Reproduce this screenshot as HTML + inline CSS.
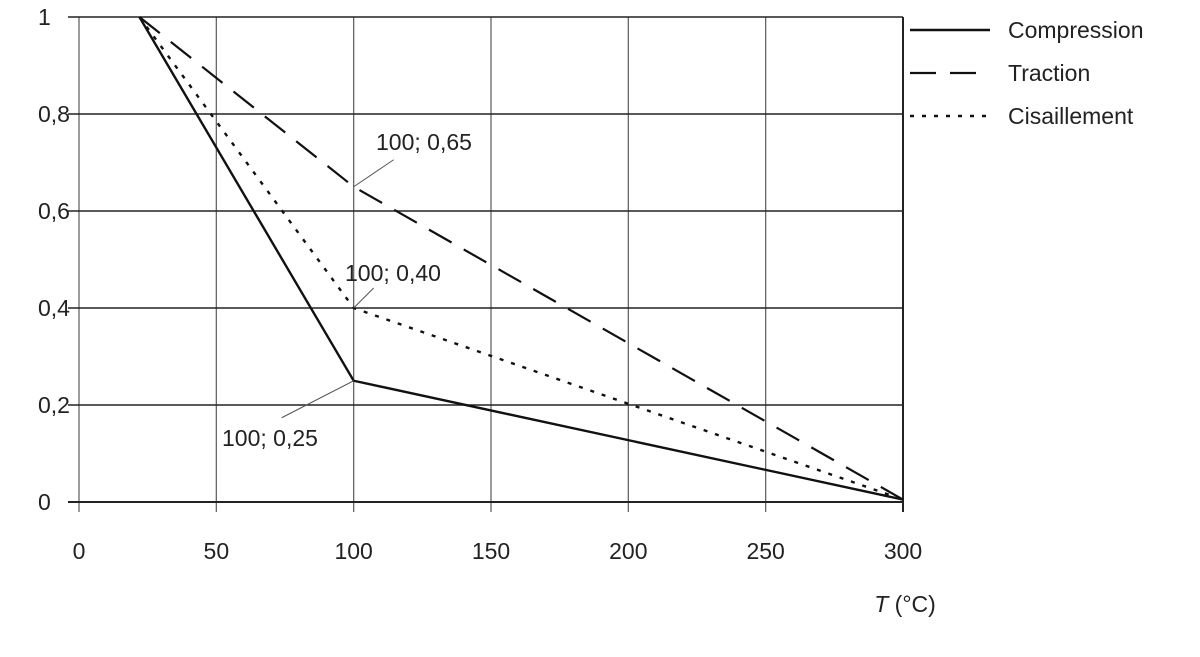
<!DOCTYPE html>
<html><head><meta charset="utf-8"><style>
body{margin:0;background:#fff;}
svg text{font-family:"Liberation Sans",Arial,sans-serif;fill:#222;}
</style></head><body>
<svg width="1200" height="652" viewBox="0 0 1200 652">
<g id="grid"></g>
<g id="axes"></g>
<g id="series"></g>
<g id="annot"></g>
<g id="legend"></g>
<text x="905" y="612" font-size="23" text-anchor="middle"><tspan font-style="italic">T</tspan> (°C)</text>
</svg>
<script>
const xTicks=[0,50,100,150,200,250,300];
const yTicks=[0,0.2,0.4,0.6,0.8,1];
const yTickLabels=["0","0,2","0,4","0,6","0,8","1"];
const seriesNames=["Compression","Traction","Cisaillement"];
const temps=[22,100,300];
const compression=[1,0.25,0.005];
const traction=[1,0.65,0.005];
const cisaillement=[1,0.40,0.005];
const annotations=[{x:100,y:0.65,t:"100; 0,65",dx:40,dy:-27,tx:376,ty:150},{x:100,y:0.40,t:"100; 0,40",dx:20,dy:-20,tx:345,ty:281},{x:100,y:0.25,t:"100; 0,25",dx:-72,dy:37,tx:222,ty:446}];
const NS="http://www.w3.org/2000/svg";
const X=v=>79+v*(903-79)/300, Y=v=>502-v*485;
function mk(tag,attrs,parent){const e=document.createElementNS(NS,tag);for(const k in attrs)e.setAttribute(k,attrs[k]);parent.appendChild(e);return e;}
const grid=document.getElementById('grid'),axes=document.getElementById('axes'),ser=document.getElementById('series'),ann=document.getElementById('annot'),leg=document.getElementById('legend');
xTicks.forEach(v=>{const l=mk('line',{x1:X(v),x2:X(v),y1:Y(1),y2:512,stroke:'#666','stroke-width':1.3},grid);

const t=mk('text',{x:X(v),y:559,'font-size':23,'text-anchor':'middle'},axes);t.textContent=v;
});
yTicks.forEach((v,i)=>{const l=mk('line',{x1:68,x2:903,y1:Y(v),y2:Y(v),stroke:'#222','stroke-width':v===0?2:1.4},grid);

const t=mk('text',{x:38,y:Y(v)+8,'font-size':23},axes);t.textContent=yTickLabels[i];
});
const b=mk('line',{x1:903,x2:903,y1:Y(1),y2:512,stroke:'#222','stroke-width':2},axes);

const styles=[{d:'none',w:2.4},{d:'26 14',w:2.2},{d:'4 8',w:2.4}];
[compression,traction,cisaillement].forEach((s,i)=>{
const p=mk('polyline',{points:temps.map((t,j)=>X(t)+','+Y(s[j])).join(' '),fill:'none',stroke:'#111','stroke-width':styles[i].w,'stroke-dasharray':styles[i].d},ser);

const ly=30+i*43;
const l=mk('line',{x1:910,x2:990,y1:ly,y2:ly,stroke:'#111','stroke-width':styles[i].w,'stroke-dasharray':styles[i].d},leg);

const t=mk('text',{x:1008,y:ly+8,'font-size':23},leg);t.textContent=seriesNames[i];
});
annotations.forEach(a=>{const l=mk('line',{x1:X(a.x),y1:Y(a.y),x2:X(a.x)+a.dx,y2:Y(a.y)+a.dy,stroke:'#555','stroke-width':1},ann);

const t=mk('text',{x:a.tx,y:a.ty,'font-size':23},ann);t.textContent=a.t;
});
</script>
</body></html>
